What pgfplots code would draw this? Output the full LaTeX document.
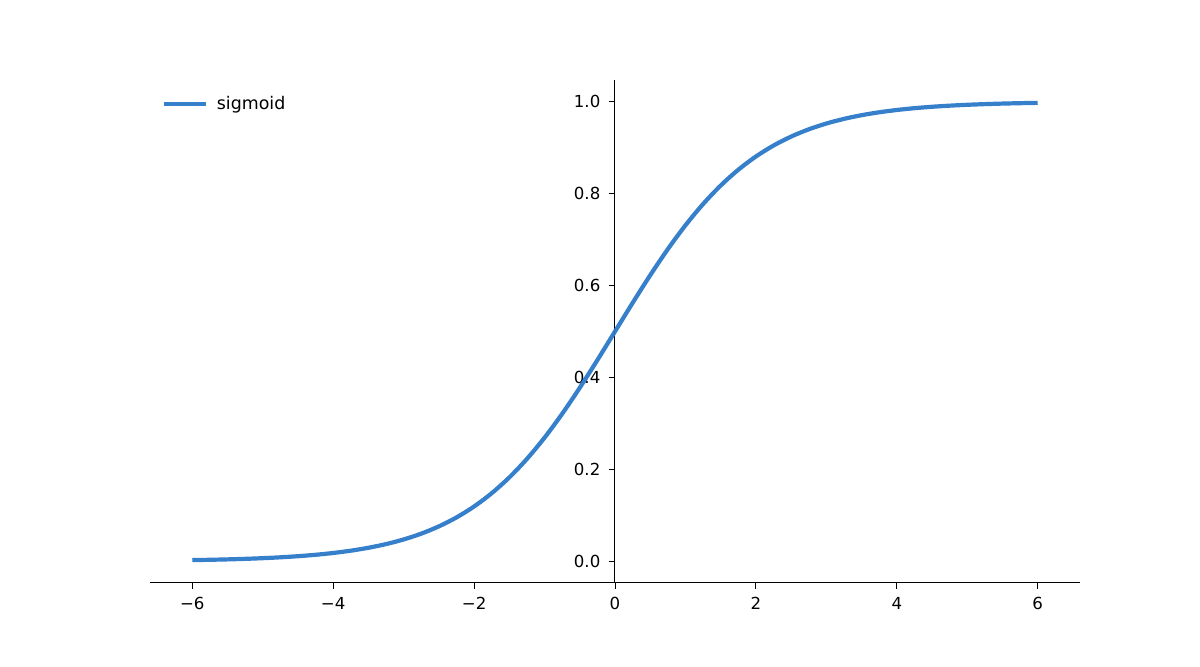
\documentclass[border=0pt]{standalone}
\usepackage{fontspec}
\setmainfont{DejaVu Sans}
\usepackage{pgfplots}
\pgfplotsset{compat=1.18}
\definecolor{sigblue}{HTML}{2A78C8}

\begin{document}
\begin{tikzpicture}[x=1pt,y=1pt]
  % page = 1200x667 px at 0.5pt per px
  \path[use as bounding box] (0,0) rectangle (600,333.5);
  \begin{axis}[
      at={(75pt,42pt)}, anchor=south west,
      scale only axis,
      width=465pt, height=251.5pt,
      xmin=-6.6, xmax=6.6,
      ymin=-0.0473, ymax=1.0473,
      axis x line=bottom,
      axis y line=center,
      axis line style={-, line width=0.5pt},
      tick align=outside,
      major tick length=3pt,
      tick style={black, line width=0.45pt},
      xtick={-6,-4,-2,0,2,4,6},
      xticklabels={−6,−4,−2,0,2,4,6},
      ytick={0,0.2,0.4,0.6,0.8,1.0},
      yticklabels={0.0,0.2,0.4,0.6,0.8,1.0},
      ticklabel style={font=\fontsize{8.3}{10}\selectfont},
      xticklabel style={yshift=-0.5pt},
      yticklabel style={xshift=-0.8pt},
      legend style={draw=none, fill=none, at={(0.0057,0.952)}, anchor=west,
        font=\fontsize{8.7}{10}\selectfont},
      legend cell align=left,
      legend image code/.code={\draw[#1, line width=2.1pt] (0pt,0pt) -- (21pt,0pt);},
      clip=false,
    ]
    \addplot[sigblue, line width=2.1pt, smooth, opacity=0.95] coordinates {
      (-6,0.002473) (-5.75,0.003173) (-5.5,0.004070) (-5.25,0.005220)
      (-5,0.006693) (-4.75,0.008577) (-4.5,0.010987) (-4.25,0.014064)
      (-4,0.017986) (-3.75,0.022977) (-3.5,0.029312) (-3.25,0.037327)
      (-3,0.047426) (-2.75,0.060086) (-2.5,0.075858) (-2.25,0.095349)
      (-2,0.119203) (-1.75,0.148047) (-1.5,0.182426) (-1.25,0.222700)
      (-1,0.268941) (-0.75,0.320821) (-0.5,0.377541) (-0.25,0.437823)
      (0,0.5)
      (0.25,0.562177) (0.5,0.622459) (0.75,0.679179) (1,0.731059)
      (1.25,0.777300) (1.5,0.817574) (1.75,0.851953) (2,0.880797)
      (2.25,0.904651) (2.5,0.924142) (2.75,0.939914) (3,0.952574)
      (3.25,0.962673) (3.5,0.970688) (3.75,0.977023) (4,0.982014)
      (4.25,0.985936) (4.5,0.989013) (4.75,0.991423) (5,0.993307)
      (5.25,0.994780) (5.5,0.995930) (5.75,0.996827) (6,0.997527)
    };
    \addlegendentry{\hspace*{2.5pt}sigmoid}
  \end{axis}
\end{tikzpicture}
\end{document}
